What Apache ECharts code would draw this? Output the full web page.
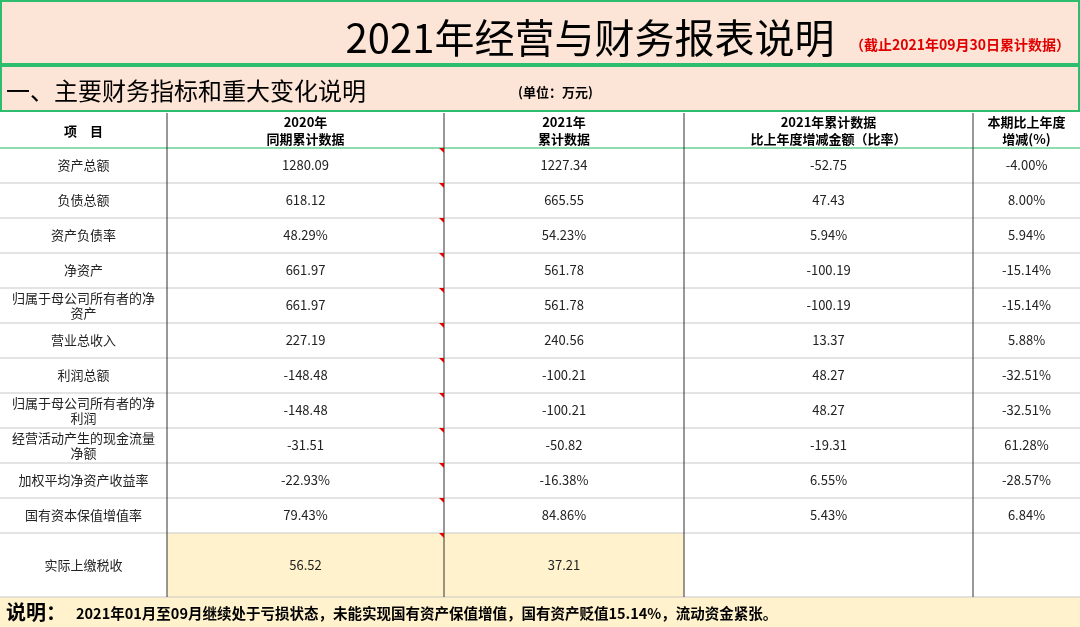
<!DOCTYPE html>
<html><head><meta charset="utf-8">
<script src="https://cdn.jsdelivr.net/npm/echarts@6/dist/echarts.min.js"></script>
<style>html,body{margin:0;padding:0;background:#fff}#c{width:1080px;height:627px}</style>
</head><body><div id="c"></div>
<script>
const items=['资产总额','负债总额','资产负债率','净资产','归属于母公司所有者的净\n资产','营业总收入','利润总额','归属于母公司所有者的净\n利润','经营活动产生的现金流量\n净额','加权平均净资产收益率','国有资本保值增值率','实际上缴税收'];
const v2020=['1280.09','618.12','48.29%','661.97','661.97','227.19','-148.48','-148.48','-31.51','-22.93%','79.43%','56.52'];
const v2021=['1227.34','665.55','54.23%','561.78','561.78','240.56','-100.21','-100.21','-50.82','-16.38%','84.86%','37.21'];
const change=['-52.75','47.43','5.94%','-100.19','-100.19','13.37','48.27','48.27','-19.31','6.55%','5.43%',''];
const pct=['-4.00%','8.00%','5.94%','-15.14%','-15.14%','5.88%','-32.51%','-32.51%','61.28%','-28.57%','6.84%',''];
const headers=['项　目','2020年\n同期累计数据','2021年\n累计数据','2021年累计数据\n比上年度增减金额（比率）','本期比上年度\n增减(%)'];
const colX=[0,167,444,684,973,1080];
const rowY=[148,183,218,253,288,323,358,393,428,463,498,533,597];
const F='"Noto Sans CJK SC", sans-serif';
const g=[];
g.push({type:'rect',shape:{x:0,y:0,width:1080,height:112},style:{fill:'#fce4d6'}});
g.push({type:'rect',shape:{x:1,y:1,width:1078,height:63},style:{fill:'none',stroke:'#2dbd6e',lineWidth:2}});
g.push({type:'rect',shape:{x:1,y:66,width:1078,height:45},style:{fill:'none',stroke:'#2dbd6e',lineWidth:2}});
g.push({type:'text',x:590,y:38,style:{text:'2021年经营与财务报表说明',font:'40px '+F,fill:'#000',align:'center',verticalAlign:'middle'}});
g.push({type:'text',x:960,y:45,style:{text:'（截止2021年09月30日累计数据）',font:'bold 14px '+F,fill:'#e00000',align:'center',verticalAlign:'middle'}});
g.push({type:'text',x:6,y:91,style:{text:'一、主要财务指标和重大变化说明',font:'24px '+F,fill:'#000',verticalAlign:'middle'}});
g.push({type:'text',x:518,y:92,style:{text:'(单位：万元)',font:'bold 13px '+F,fill:'#000',verticalAlign:'middle'}});
g.push({type:'rect',shape:{x:167,y:533,width:517,height:64},style:{fill:'#fff2cc'}});
g.push({type:'rect',shape:{x:0,y:597,width:1080,height:30},style:{fill:'#fff2cc'}});
rowY.forEach((y,i)=>{g.push({type:'line',shape:{x1:0,y1:y,x2:1080,y2:y},style:{stroke:i===0?'#8fdcb0':'#c8c8c8',lineWidth:i===0?2:1}});});
colX.slice(1,5).forEach(x=>{g.push({type:'line',shape:{x1:x,y1:113,x2:x,y2:597},style:{stroke:'#333',lineWidth:1}});});
headers.forEach((h,i)=>{g.push({type:'text',x:(colX[i]+colX[i+1])/2,y:131,style:{text:h,font:'bold 13px '+F,fill:'#000',align:'center',verticalAlign:'middle',lineHeight:17}});});
rowY.slice(0,12).forEach(y=>{g.push({type:'polygon',shape:{points:[[439,y],[444,y],[444,y+5]]},style:{fill:'#e00000'}});});
const cols=[items,v2020,v2021,change,pct];
cols.forEach((arr,c)=>{arr.forEach((t,r)=>{if(!t)return;g.push({type:'text',x:(colX[c]+colX[c+1])/2,y:(rowY[r]+rowY[r+1])/2,style:{text:t,font:'13px '+F,fill:'#222',align:'center',verticalAlign:'middle',lineHeight:15}});});});
g.push({type:'text',x:6,y:612,style:{text:'说明：',font:'bold 20px '+F,fill:'#000',verticalAlign:'middle'}});
g.push({type:'text',x:76,y:613,style:{text:'2021年01月至09月继续处于亏损状态，未能实现国有资产保值增值，国有资产贬值15.14%，流动资金紧张。',font:'bold 14.5px '+F,fill:'#000',verticalAlign:'middle'}});
const ch=echarts.init(document.getElementById('c'));
ch.setOption({animation:false,graphic:g});
</script></body></html>
